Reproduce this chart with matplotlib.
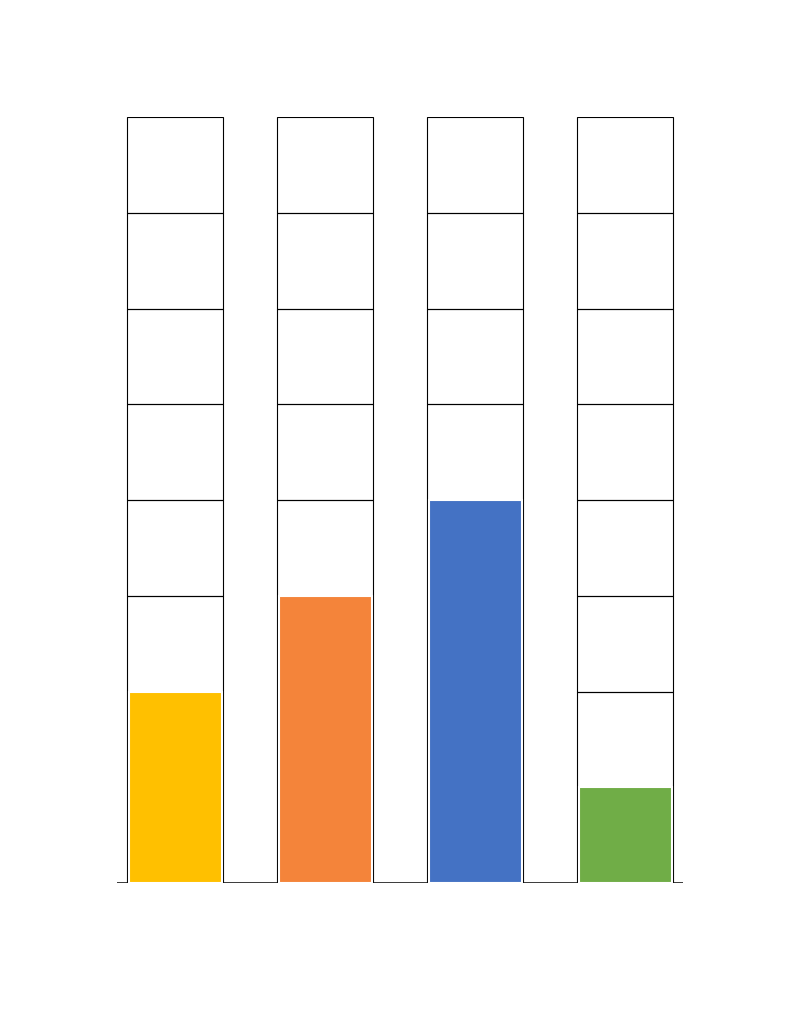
"""Stacked cell chart: four columns of boxes with filled bars."""

import matplotlib

matplotlib.use("Agg")
from matplotlib import pyplot as plt

categories = ["A", "B", "C", "D"]
values = [2, 3, 4, 1]
colors = ["#FFC000", "#F4843A", "#4472C4", "#70AD47"]
n_rows = 8

fig = plt.figure(figsize=(8.09, 10.09), dpi=100)
ax = fig.add_axes([117 / 809, 126 / 1009, 566 / 809, 766 / 1009])

positions = list(range(len(categories)))

# grid of empty cells behind the bars
for row in range(n_rows):
    ax.bar(
        positions,
        [1] * len(positions),
        bottom=row,
        width=0.64,
        facecolor="none",
        edgecolor="black",
        linewidth=0.8,
        zorder=1,
    )

# filled bars
ax.bar(
    positions,
    values,
    width=0.62,
    color=colors,
    edgecolor="white",
    linewidth=1.5,
    zorder=3,
)

ax.axhline(0, color="black", linewidth=1.8, zorder=2)

ax.set_xlim(-58 / 150, 3 + 58 / 150)
ax.set_ylim(0, n_rows)
ax.axis("off")

fig.savefig("out.png", dpi=100)
